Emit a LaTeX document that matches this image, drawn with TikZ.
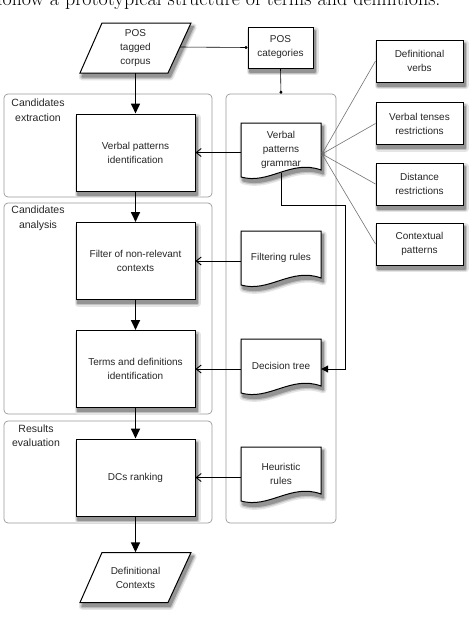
\documentclass[tikz,border=0pt]{standalone}
\usepackage{fontspec}
\setsansfont{Liberation Sans}
\usetikzlibrary{arrows.meta,calc}
\tikzset{
  txt/.style={font=\sffamily\fontsize{10}{14}\selectfont, text=black!85, align=center, inner sep=0pt},
  sha/.style={draw=black!10, fill=black!10, line width=7pt, line join=round},
  shb/.style={draw=black!24, fill=black!24, line width=4pt, line join=round},
  shc/.style={draw=black!42, fill=black!42, line width=1.5pt, line join=round},
  procbox/.style={txt, draw=black, line width=1pt, fill=white},
  container/.style={draw=black!40, line width=0.7pt, rounded corners=4pt, inner sep=0pt},
  grouplabel/.style={txt, font=\sffamily\fontsize{10.5}{14.5}\selectfont},
  docnode/.style={txt, minimum width=80pt, minimum height=54pt},
  paranode/.style={txt, minimum width=111pt, minimum height=50pt},
  docpath/.style={draw=black, line width=1pt, fill=white, line join=miter},
  flow/.style={line width=1.7pt, -{Triangle[length=10pt,width=9pt]}},
  feed/.style={line width=0.9pt, -{Straight Barb[length=5pt,width=8pt]}},
  feedfill/.style={line width=0.9pt, -{Triangle[length=7pt,width=7pt]}},
  dotline/.style={line width=0.6pt, -{Circle[length=3pt]}},
  grayline/.style={draw=black!55, line width=0.6pt, {Circle[length=3pt]}-}
}
% soft drop shadow under a path (given in local coordinates)
\newcommand\shadowed[1]{%
  \begin{scope}[shift={(2.2,3.8)}]\draw[sha] #1;\draw[shb] #1;\draw[shc] #1;\end{scope}}
% rectangular box: name, x, y, w, h, text
\newcommand\boxat[6]{%
  \begin{scope}[shift={(#2,#3)}]\shadowed{(-#4/2,-#5/2) rectangle (#4/2,#5/2)}\end{scope}
  \node[procbox, minimum width=#4pt, minimum height=#5pt] (#1) at (#2,#3) {#6};}
% document shape: name, x, y, text
\newcommand\docat[4]{%
  \begin{scope}[shift={(#2,#3)}]
    \shadowed{(-40,-27) -- (40,-27) -- (40,20) .. controls (10,9) and (-12,35) .. (-40,27) -- cycle}
    \draw[docpath] (-40,-27) -- (40,-27) -- (40,20) .. controls (10,9) and (-12,35) .. (-40,27) -- cycle;
  \end{scope}
  \node[docnode] (#1) at (#2,#3) {#4};}
% parallelogram: name, x, y, text
\newcommand\paraat[4]{%
  \begin{scope}[shift={(#2,#3)}]
    \shadowed{(-55.5,25) -- (32.5,25) -- (55.5,-25) -- (-33.5,-25) -- cycle}
    \draw[docpath] (-55.5,25) -- (32.5,25) -- (55.5,-25) -- (-33.5,-25) -- cycle;
  \end{scope}
  \node[paranode] (#1) at (#2,#3) {#4};}
\begin{document}
\begin{tikzpicture}[x=1pt,y=-1pt]
\useasboundingbox (0,0) rectangle (474,619);
\fill[white] (0,0) rectangle (474,619);

% cut-off caption line at the top
\node[anchor=base west, inner sep=0pt, font=\fontsize{20}{24}\selectfont] (cap) at (-3,5.5)
  {follow a prototypical structure of terms and definitions.};

% containers
\node[container, minimum width=208pt, minimum height=103pt] (ce) at (108,145.5) {};
\node[container, minimum width=208pt, minimum height=211pt] (ca) at (108,308.5) {};
\node[container, minimum width=208pt, minimum height=102pt] (re) at (108,472) {};
\node[container, minimum width=110pt, minimum height=429pt] (rc) at (281,308.5) {};
\node[grouplabel] (lce) at (38,110) {Candidates\\extraction};
\node[grouplabel] (lca) at (38,218.5) {Candidates\\analysis};
\node[grouplabel] (lre) at (36,435.5) {Results\\evaluation};

% main process
\paraat{pos}{135.5}{48}{POS\\tagged\\corpus}
\boxat{vpi}{135.5}{152.5}{119}{77}{Verbal patterns\\identification}
\boxat{flt}{135.5}{261}{119}{77}{Filter of non-relevant\\contexts}
\boxat{tdi}{135.5}{369}{119}{77}{Terms and definitions\\identification}
\boxat{dcr}{135.5}{477.5}{119}{77}{DCs ranking}
\paraat{dc}{135.5}{577.5}{Definitional\\Contexts}

% resources
\boxat{cat}{280.5}{47.5}{65}{41}{POS\\categories}
\docat{vpg}{281}{150}{Verbal\\patterns\\grammar}
\docat{fr}{281}{258}{Filtering rules}
\docat{dt}{281}{366}{Decision tree}
\docat{hr}{281}{474}{Heuristic\\rules}

\boxat{dv}{419.5}{61}{87}{42}{Definitional\\verbs}
\boxat{vt}{419.5}{123.5}{87}{42}{Verbal tenses\\restrictions}
\boxat{dr}{419.5}{184}{87}{42}{Distance\\restrictions}
\boxat{cp}{419.5}{244}{87}{42}{Contextual\\patterns}

% connectors
\draw[flow] (pos.south) -- (vpi.north);
\draw[flow] (vpi.south) -- (flt.north);
\draw[flow] (flt.south) -- (tdi.north);
\draw[flow] (tdi.south) -- (dcr.north);
\draw[flow] (dcr.south) -- (dc.north);

\draw[dotline] ($(pos.east)+(-11.5,-1)$) -- (cat.west);
\draw[dotline] (cat.south) -- (rc.north);

\draw[feed] (vpg.west |- vpi.east) -- (vpi.east);
\draw[feed] (fr.west |- flt.east) -- (flt.east);
\draw[feed] (dt.west |- tdi.east) -- (tdi.east);
\draw[feed] (hr.west |- dcr.east) -- (dcr.east);

\coordinate (gdot) at (322,154);
\draw[grayline] (gdot) -- (dv.west);
\draw[grayline] (gdot) -- (vt.west);
\draw[grayline] (gdot) -- (dr.west);
\draw[grayline] (gdot) -- (cp.west);

\coordinate (bend) at (345,205);
\draw[feedfill] ($(vpg.south)+(0,-4.5)$) |- (bend) |- ($(dt.east)+(0,3)$);
\end{tikzpicture}
\end{document}
